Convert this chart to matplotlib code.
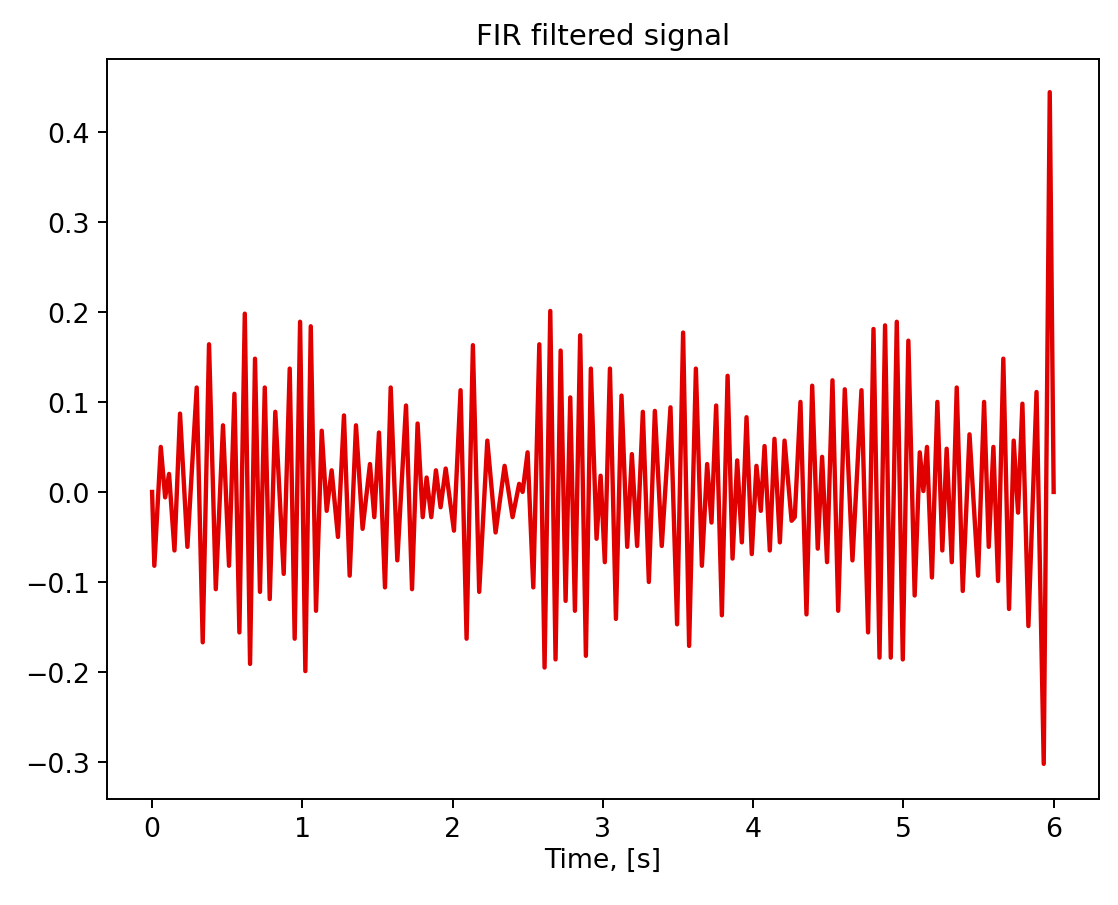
import matplotlib
matplotlib.use("Agg")
import matplotlib.pyplot as plt

t = [0.000,0.015,0.058,0.087,0.113,0.149,0.186,0.235,0.297,0.337,0.379,0.424,0.472,0.512,0.548,0.581,0.617,0.652,0.685,0.718,0.750,0.783,0.820,0.876,0.916,0.949,0.985,1.020,1.056,1.091,1.129,1.162,1.195,1.237,1.277,1.315,1.357,1.401,1.450,1.479,1.510,
     1.550,1.588,1.632,1.690,1.730,1.767,1.801,1.827,1.858,1.889,1.920,1.954,2.009,2.053,2.093,2.135,2.177,2.231,2.286,2.346,2.399,2.443,2.466,2.499,2.537,2.577,2.612,2.650,2.685,2.719,2.752,2.783,2.814,2.849,2.887,2.920,2.958,2.985,3.013,3.047,
     3.087,3.124,3.162,3.193,3.228,3.266,3.306,3.346,3.392,3.450,3.494,3.534,3.574,3.619,3.659,3.694,3.723,3.754,3.792,3.830,3.863,3.894,3.925,3.956,3.991,4.022,4.051,4.076,4.111,4.142,4.178,4.209,4.256,4.277,4.315,4.355,4.393,4.430,4.459,4.492,4.528,4.566,
     4.610,4.661,4.721,4.765,4.801,4.841,4.878,4.916,4.956,4.996,5.033,5.075,5.109,5.133,5.157,5.190,5.226,5.259,5.288,5.322,5.355,5.395,5.440,5.497,5.537,5.568,5.599,5.630,5.665,5.703,5.734,5.763,5.792,5.832,5.886,5.934,5.974,6.000]
y = [0.000,-0.082,0.050,-0.006,0.020,-0.065,0.087,-0.061,0.116,-0.167,0.164,-0.108,0.074,-0.082,0.109,-0.156,0.198,-0.191,0.148,-0.111,0.116,-0.119,0.089,-0.091,0.137,-0.163,0.189,-0.199,0.184,-0.132,0.068,-0.021,0.024,-0.050,0.085,-0.093,0.074,-0.041,0.031,-0.028,0.066,
     -0.106,0.116,-0.076,0.096,-0.108,0.076,-0.028,0.016,-0.028,0.024,-0.017,0.026,-0.043,0.113,-0.163,0.163,-0.111,0.057,-0.045,0.029,-0.028,0.009,0.000,0.044,-0.106,0.164,-0.195,0.201,-0.186,0.157,-0.121,0.105,-0.132,0.174,-0.182,0.137,-0.052,0.018,-0.078,0.137,
     -0.141,0.107,-0.061,0.042,-0.060,0.089,-0.100,0.090,-0.060,0.094,-0.147,0.177,-0.171,0.137,-0.082,0.031,-0.034,0.096,-0.137,0.129,-0.074,0.035,-0.056,0.083,-0.069,0.029,-0.021,0.051,-0.065,0.059,-0.056,0.057,-0.032,-0.028,0.100,-0.136,0.118,-0.063,0.039,-0.078,0.124,-0.132,
     0.114,-0.076,0.113,-0.156,0.181,-0.184,0.185,-0.184,0.189,-0.186,0.168,-0.115,0.044,0.001,0.050,-0.095,0.100,-0.065,0.048,-0.078,0.116,-0.110,0.064,-0.093,0.100,-0.061,0.050,-0.099,0.148,-0.130,0.057,-0.023,0.098,-0.149,0.111,-0.302,0.444,0.000]

plt.rcParams['font.size'] = 11
fig = plt.figure(figsize=(6.389, 5.177), dpi=175)
ax = fig.add_axes([0.0957, 0.117, 0.887, 0.817])
ax.plot(t, y, color='#e00000', linewidth=1.8, solid_joinstyle='round')
ax.set_xlim(-0.3, 6.3)
ax.set_ylim(-0.341, 0.481)
ax.set_yticks([-0.3,-0.2,-0.1,0.0,0.1,0.2,0.3,0.4])
ax.set_title("FIR filtered signal", fontsize=12)
ax.set_xlabel("Time, [s]", labelpad=2)
fig.savefig("out.png", dpi=175)
